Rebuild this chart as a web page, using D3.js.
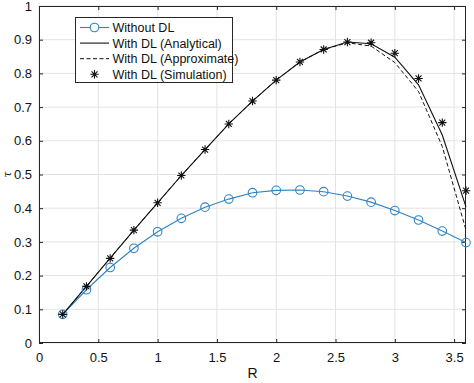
<!DOCTYPE html>
<html>
<head>
<meta charset="utf-8">
<script src="https://cdn.jsdelivr.net/npm/d3@7"></script>
<style>
	body { margin: 0; background: #fff; }
	svg { font-family: "Liberation Sans", Arial, sans-serif; }
</style>
</head>
<body>
<svg width="474" height="383"></svg>
<script>
// values
const R = [0.2, 0.4, 0.6, 0.8, 1.0, 1.2, 1.4, 1.6, 1.8, 2.0, 2.2, 2.4, 2.6, 2.8, 3.0, 3.2, 3.4, 3.6];
const withoutDL = [0.085, 0.158, 0.224, 0.281, 0.330, 0.370, 0.403, 0.427, 0.446, 0.453, 0.454, 0.449, 0.436, 0.418, 0.393, 0.365, 0.332, 0.298];
const analytical = [0.085, 0.168, 0.252, 0.335, 0.416, 0.497, 0.574, 0.650, 0.718, 0.780, 0.834, 0.871, 0.893, 0.888, 0.848, 0.766, 0.617, 0.404];
const approximate = [0.085, 0.168, 0.252, 0.335, 0.416, 0.497, 0.574, 0.650, 0.718, 0.780, 0.834, 0.871, 0.891, 0.881, 0.832, 0.746, 0.583, 0.335];
const simulation = [0.085, 0.168, 0.251, 0.335, 0.416, 0.497, 0.574, 0.650, 0.718, 0.780, 0.834, 0.871, 0.893, 0.891, 0.860, 0.785, 0.654, 0.452];
const xTicks = [0, 0.5, 1, 1.5, 2, 2.5, 3, 3.5];
const yTicks = [0, 0.1, 0.2, 0.3, 0.4, 0.5, 0.6, 0.7, 0.8, 0.9, 1];
const legendLabels = ["Without DL", "With DL (Analytical)", "With DL (Approximate)", "With DL (Simulation)"];

const svg = d3.select("svg");
const pLeft = 39, pRight = 466, pTop = 6, pBottom = 343;
const blue = "#2f83c3";
const axisColor = "#262626";

const x = d3.scaleLinear().domain([0, 3.6]).range([pLeft, pRight]);
const y = d3.scaleLinear().domain([0, 1]).range([pBottom, pTop]);

// grid
const grid = svg.append("g").attr("stroke", "#e3e3e3").attr("stroke-width", 1);
xTicks.forEach((t) => {
	grid.append("line")
		.attr("x1", x(t)).attr("x2", x(t))
		.attr("y1", pTop).attr("y2", pBottom);
});
yTicks.forEach((t) => {
	grid.append("line")
		.attr("x1", pLeft).attr("x2", pRight)
		.attr("y1", y(t)).attr("y2", y(t));
});

// axes (ticks pointing inwards, box on)
const styleAxis = (g) => {
	g.select(".domain").remove();
	g.selectAll(".tick line").attr("stroke", axisColor);
	g.selectAll(".tick text")
		.attr("fill", "#111")
		.attr("font-size", "13px")
		.attr("font-family", "Liberation Sans, Arial, sans-serif");
};
svg.append("g")
	.attr("transform", "translate(0," + pBottom + ")")
	.call(d3.axisBottom(x).tickValues(xTicks).tickSize(-4).tickPadding(10).tickFormat(d3.format("")))
	.call(styleAxis);
svg.append("g")
	.attr("transform", "translate(0," + pTop + ")")
	.call(d3.axisTop(x).tickValues(xTicks).tickSize(-4).tickFormat(""))
	.call(styleAxis);
svg.append("g")
	.attr("transform", "translate(" + pLeft + ",0)")
	.call(d3.axisLeft(y).tickValues(yTicks).tickSize(-4).tickPadding(7).tickFormat(d3.format("")))
	.call(styleAxis);
svg.append("g")
	.attr("transform", "translate(" + pRight + ",0)")
	.call(d3.axisRight(y).tickValues(yTicks).tickSize(-4).tickFormat(""))
	.call(styleAxis);

svg.append("rect")
	.attr("x", pLeft + 0.5).attr("y", pTop + 0.5)
	.attr("width", pRight - pLeft - 1).attr("height", pBottom - pTop - 1)
	.attr("fill", "none").attr("stroke", axisColor).attr("stroke-width", 1);

// axis labels
svg.append("text")
	.attr("x", (pLeft + pRight) / 2).attr("y", 378)
	.attr("text-anchor", "middle").attr("font-size", "14px").attr("fill", "#111")
	.text("R");
svg.append("text")
	.attr("transform", "translate(11," + y(0.5) + ") rotate(-90)")
	.attr("text-anchor", "middle").attr("font-size", "11px").attr("fill", "#111")
	.attr("font-family", "DejaVu Serif, serif").attr("font-style", "italic")
	.text("τ");

// lines
const line = (vals) => d3.line().x((d, i) => x(R[i])).y((d) => y(d))(vals);
svg.append("path").attr("d", line(withoutDL))
	.attr("fill", "none").attr("stroke", blue).attr("stroke-width", 1.1);
svg.append("path").attr("d", line(analytical))
	.attr("fill", "none").attr("stroke", "#111").attr("stroke-width", 1.1);
svg.append("path").attr("d", line(approximate))
	.attr("fill", "none").attr("stroke", "#111").attr("stroke-width", 1)
	.attr("stroke-dasharray", "4,2.5");

// markers
const starPath = (cx, cy, s) => {
	const d = s * 0.707;
	return "M" + (cx - s) + "," + cy + "L" + (cx + s) + "," + cy +
		"M" + cx + "," + (cy - s) + "L" + cx + "," + (cy + s) +
		"M" + (cx - d) + "," + (cy - d) + "L" + (cx + d) + "," + (cy + d) +
		"M" + (cx - d) + "," + (cy + d) + "L" + (cx + d) + "," + (cy - d);
};
svg.append("g").selectAll("circle")
	.data(withoutDL).join("circle")
	.attr("cx", (d, i) => x(R[i])).attr("cy", (d) => y(d)).attr("r", 4.3)
	.attr("fill", "none").attr("stroke", blue).attr("stroke-width", 1.1);
svg.append("g").selectAll("path")
	.data(simulation).join("path")
	.attr("d", (d, i) => starPath(x(R[i]), y(d), 4.2))
	.attr("stroke", "#111").attr("stroke-width", 1.1).attr("fill", "none");

// legend
const lg = svg.append("g");
lg.append("rect")
	.attr("x", 75.5).attr("y", 17.5).attr("width", 157).attr("height", 65)
	.attr("fill", "#fff").attr("stroke", axisColor).attr("stroke-width", 1);
legendLabels.forEach((label, i) => {
	const ly = 27.5 + i * 15.6;
	if (i === 0) {
		lg.append("line").attr("x1", 80).attr("x2", 109).attr("y1", ly).attr("y2", ly)
			.attr("stroke", blue).attr("stroke-width", 1.1);
		lg.append("circle").attr("cx", 94.5).attr("cy", ly).attr("r", 4.3)
			.attr("fill", "#fff").attr("stroke", blue).attr("stroke-width", 1.1);
	} else if (i === 1) {
		lg.append("line").attr("x1", 80).attr("x2", 109).attr("y1", ly).attr("y2", ly)
			.attr("stroke", "#111").attr("stroke-width", 1.1);
	} else if (i === 2) {
		lg.append("line").attr("x1", 80).attr("x2", 109).attr("y1", ly).attr("y2", ly)
			.attr("stroke", "#111").attr("stroke-width", 1).attr("stroke-dasharray", "4,2.5");
	} else {
		lg.append("path").attr("d", starPath(94.5, ly, 4.2))
			.attr("stroke", "#111").attr("stroke-width", 1.1).attr("fill", "none");
	}
	lg.append("text")
		.attr("x", 112.5).attr("y", ly + 4.5)
		.attr("font-size", "12.5px").attr("fill", "#111")
		.text(label);
});
</script>
</body>
</html>
